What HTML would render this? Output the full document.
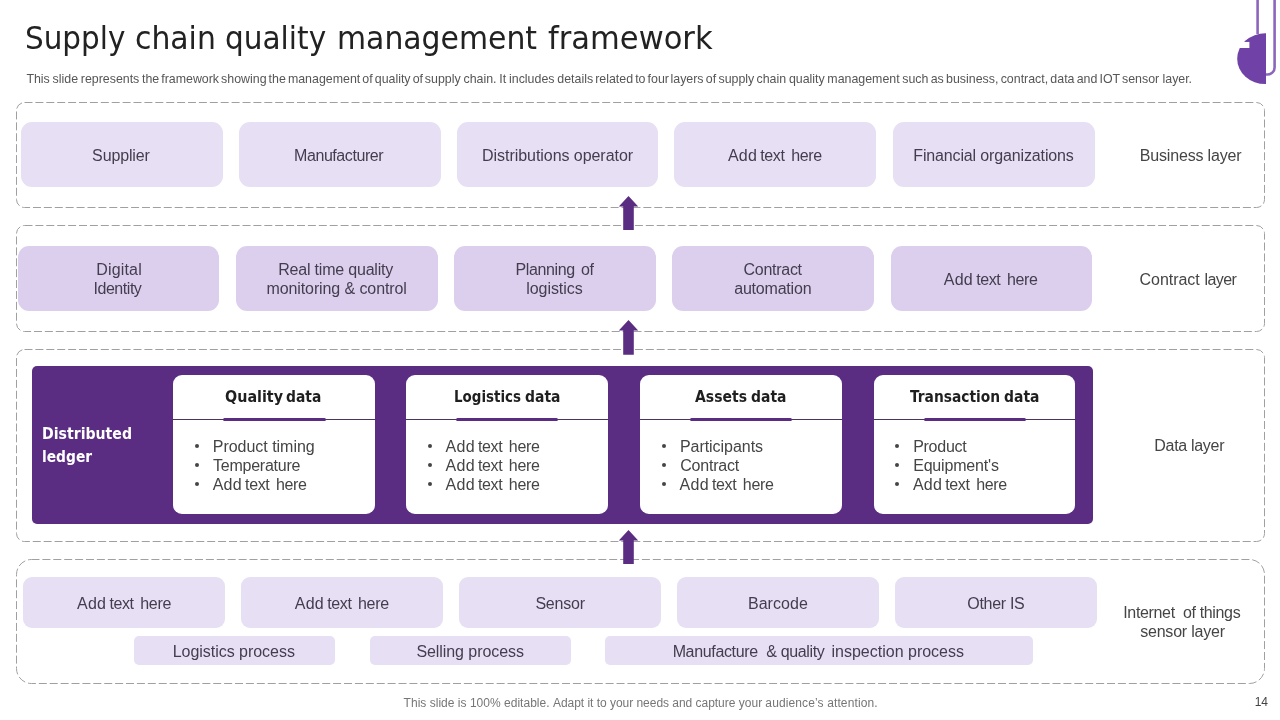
<!DOCTYPE html>
<html lang="en"><head><meta charset="utf-8"><title>Supply chain quality management framework</title>
<style>
html,body{margin:0;padding:0;background:#fff}
body{width:1280px;height:720px;position:relative;overflow:hidden}
#stage{position:absolute;left:0;top:0;width:1280px;height:720px;will-change:transform}
#art{position:absolute;left:0;top:0}
h1,h2,p,ul,li,section,footer{margin:0;padding:0;font-size:inherit;font-weight:inherit;list-style:none}
.bx,li{position:absolute}
.x{position:absolute;white-space:pre;font-kerning:normal;transform-origin:0 0}
.g{display:inline-block;height:1px}
.l1,.l4,.l5{background:#E7DFF3}
.l2{background:#DCCFED}
.l1,.l2{border-radius:11px}
.l4{border-radius:9px}
.l5{border-radius:5px}
.dark{background:#5A2D83;border-radius:5px}
.card{background:#fff;border-radius:9px}
.rule{height:1px;background:#4a3560}
.accent{width:102.2px;height:3px;border-radius:1.5px;background:#5A2D83}
li{width:4px;height:20px}
li::before{content:"";position:absolute;left:0;top:7.4px;width:4px;height:4px;border-radius:50%;background:#454545}
.rl{font-family:"Liberation Sans",sans-serif;font-size:16px;font-weight:400;color:#433d4f;line-height:20px}
.r{font-family:"Liberation Sans",sans-serif;font-size:16px;font-weight:400;color:#454545;line-height:20px}
.b{font-family:"DejaVu Sans Condensed","DejaVu Sans","Liberation Sans",sans-serif;font-stretch:condensed;font-size:15.5px;font-weight:700;color:#1f1f1f;line-height:20px}
.bw{font-family:"DejaVu Sans Condensed","DejaVu Sans","Liberation Sans",sans-serif;font-stretch:condensed;font-size:15px;font-weight:700;color:#ffffff;line-height:20px}
.t{font-family:"DejaVu Sans Condensed","DejaVu Sans","Liberation Sans",sans-serif;font-stretch:condensed;font-size:32px;font-weight:400;color:#222222;line-height:40px}
.s{font-family:"Liberation Sans",sans-serif;font-size:12.4px;font-weight:400;color:#565656;line-height:16px}
.f{font-family:"Liberation Sans",sans-serif;font-size:12px;font-weight:400;color:#767676;line-height:16px}
.p{font-family:"Liberation Sans",sans-serif;font-size:12px;font-weight:400;color:#444444;line-height:16px}
</style></head>
<body>
<div id="stage">
<svg id="art" width="1280" height="720" viewBox="0 0 1280 720">
<g fill="none" stroke="#a0a0a0" stroke-width="1" stroke-dasharray="8 2.9">
<rect x="16.5" y="102.5" width="1248" height="105" rx="8" ry="8"/>
<rect x="16.5" y="225.5" width="1248" height="106" rx="8" ry="8"/>
<rect x="16.5" y="349.5" width="1248" height="192" rx="8" ry="8"/>
<rect x="16.5" y="559.5" width="1248" height="124" rx="15" ry="15"/>
</g>
<polygon fill="#5A2D83" points="628.5,196 638.2,206.6 633.8,206.6 633.8,230 623.2,230 623.2,206.6 618.8,206.6"/>
<polygon fill="#5A2D83" points="628.5,320 638.2,330.6 633.8,330.6 633.8,354.8 623.2,354.8 623.2,330.6 618.8,330.6"/>
<polygon fill="#5A2D83" points="628.5,530 638.2,540.6 633.8,540.6 633.8,564 623.2,564 623.2,540.6 618.8,540.6"/>
<clipPath id="hc"><rect x="1230" y="30" width="35.9" height="60"/></clipPath>
<rect x="1256.3" y="0" width="2.6" height="34" fill="#8C66BC"/>
<path d="M1274.6 0 V67.5 a7 7 0 0 1 -7 7 H1265" fill="none" stroke="#8C66BC" stroke-width="2.6"/>
<ellipse cx="1265.5" cy="58.7" rx="28.3" ry="25.4" fill="#7042A8" clip-path="url(#hc)"/>
<path d="M1236 48 H1249.4 V41.8 H1244.4 L1236 41.8 Z" fill="#fff"/>
<path d="M1249.4 41.8 H1244.2 L1246.5 40 L1249.4 38.5 Z" fill="#7042A8"/>
</svg>
<h1>
<span class="x t" style="left:24.86px;top:18px;transform:scaleX(1.0221)">Supply</span>
<span class="x t" style="left:135.31px;top:18px;transform:scaleX(1.0367)">chain</span>
<span class="x t" style="left:225.34px;top:18px;transform:scaleX(1.0267)">quality</span>
<span class="x t" style="left:336.93px;top:18px;transform:scaleX(1.0373)">management</span>
<span class="x t" style="left:547.94px;top:18px;transform:scaleX(1.0620)">framework</span>
</h1>
<p class="subtitle">
<span class="x s" style="left:26.38px;top:71px;word-spacing:-0.69px">This slide represents </span>
<span class="x s" style="left:141.98px;top:71px;word-spacing:-1.42px">the framework showing </span>
<span class="x s" style="left:268.58px;top:71px;word-spacing:-1.35px">the management of quality of </span>
<span class="x s" style="left:424.86px;top:71px;word-spacing:-0.65px">supply chain. It includes </span>
<span class="x s" style="left:557.31px;top:71px;word-spacing:-1.37px">details related to four </span>
<span class="x s" style="left:670.5px;top:71px;word-spacing:-1.17px">layers of supply chain </span>
<span class="x s" style="left:788.91px;top:71px;word-spacing:-0.82px">quality management </span>
<span class="x s" style="left:902.26px;top:71px;word-spacing:-1.18px">such as business, </span>
<span class="x s" style="left:1000.68px;top:71px;word-spacing:-1.28px">contract, data and IOT </span>
<span class="x s" style="left:1122.06px;top:71px;letter-spacing:-0.02px">sensor layer.</span>
</p>
<section class="layer">
<div class="bx l1" style="left:21px;top:122px;width:201.8px;height:65px">
<span class="x rl" style="left:71.1px;top:24px;letter-spacing:-0.14px">Supplier</span>
</div>
<div class="bx l1" style="left:239px;top:122px;width:201.5px;height:65px">
<span class="x rl" style="left:55.05px;top:24px;letter-spacing:-0.43px">Manufacturer</span>
</div>
<div class="bx l1" style="left:457px;top:122px;width:200.8px;height:65px">
<span class="x rl" style="left:25.05px;top:24px;letter-spacing:-0.05px">Distributions operator</span>
</div>
<div class="bx l1" style="left:674.4px;top:122px;width:201.6px;height:65px">
<span class="x rl" style="left:53.54px;top:24px;letter-spacing:0.24px">Add</span>
<span class="x rl" style="left:85.95px;top:24px;letter-spacing:-0.4px">text</span>
<span class="x rl" style="left:116.77px;top:24px;letter-spacing:-0.33px">here</span>
</div>
<div class="bx l1" style="left:893px;top:122px;width:201.8px;height:65px">
<span class="x rl" style="left:20.25px;top:24px;letter-spacing:-0.14px">Financial organizations</span>
</div>
<div class="lname">
<span class="x r" style="left:1139.85px;top:146px;letter-spacing:-0.18px">Business layer</span>
</div>
</section>
<section class="layer">
<div class="bx l2" style="left:18.2px;top:246px;width:200.6px;height:65px">
<span class="x rl" style="left:78.05px;top:14px;letter-spacing:0.17px">Digital</span>
<span class="x rl" style="left:75.26px;top:33px;letter-spacing:-0.45px">Identity</span>
</div>
<div class="bx l2" style="left:236.2px;top:246px;width:201.6px;height:65px">
<span class="x rl" style="left:42.05px;top:14px;letter-spacing:-0.2px">Real time quality</span>
<span class="x rl" style="left:30.29px;top:33px;letter-spacing:-0.1px">monitoring &amp; control</span>
</div>
<div class="bx l2" style="left:454.2px;top:246px;width:201.6px;height:65px">
<span class="x rl" style="left:61.25px;top:14px;letter-spacing:-0.35px">Planning<i class="g" style="width:2px"></i> of</span>
<span class="x rl" style="left:72.1px;top:33px;letter-spacing:-0.07px">logistics</span>
</div>
<div class="bx l2" style="left:672.2px;top:246px;width:201.6px;height:65px">
<span class="x rl" style="left:71.3px;top:14px;letter-spacing:-0.27px">Contract</span>
<span class="x rl" style="left:62px;top:33px;letter-spacing:-0.2px">automation</span>
</div>
<div class="bx l2" style="left:890.5px;top:246px;width:201.6px;height:65px">
<span class="x rl" style="left:53.24px;top:24px;letter-spacing:0.24px">Add</span>
<span class="x rl" style="left:85.65px;top:24px;letter-spacing:-0.4px">text</span>
<span class="x rl" style="left:116.47px;top:24px;letter-spacing:-0.33px">here</span>
</div>
<div class="lname">
<span class="x r" style="left:1139.5px;top:270px;letter-spacing:-0.03px">Contract</span>
<span class="x r" style="left:1204.4px;top:270px;letter-spacing:-0.54px">layer</span>
</div>
</section>
<section class="layer">
<div class="bx dark" style="left:32.2px;top:365.8px;width:1060.5px;height:158px">
<div class="ledger">
<span class="x bw" style="left:9.98px;top:58.22px;transform:scaleX(1.0450)">Distributed</span>
<span class="x bw" style="left:10.1px;top:81.22px;transform:scaleX(1.0236)">ledger</span>
</div>
<div class="bx card" style="left:140.7px;top:9.1px;width:202.2px;height:139.3px">
<h2>
<span class="x b" style="left:51.87px;top:12.12px;transform:translateY(-0.4px) scaleX(1.0273)">Quality</span>
<span class="x b" style="left:113.08px;top:12.12px;transform:translateY(-0.4px) scaleX(0.9934)">data</span>
</h2>
<div class="bx rule" style="left:0;top:44.1px;width:202.2px"></div>
<div class="bx accent" style="left:50.6px;top:43.1px"></div>
<ul>
<li style="left:21.8px;top:62.1px">
<span class="x r" style="left:18.15px;top:0px;letter-spacing:-0.03px">Product timing</span>
</li>
<li style="left:21.8px;top:81.1px">
<span class="x r" style="left:18.3px;top:0px;letter-spacing:-0.23px">Temperature</span>
</li>
<li style="left:21.8px;top:100.1px">
<span class="x r" style="left:18.04px;top:0px;letter-spacing:0.24px">Add</span>
<span class="x r" style="left:50.45px;top:0px;letter-spacing:-0.4px">text</span>
<span class="x r" style="left:81.27px;top:0px;letter-spacing:-0.33px">here</span>
</li>
</ul>
</div>
<div class="bx card" style="left:373.4px;top:9.1px;width:202.6px;height:139.3px">
<h2>
<span class="x b" style="left:48.92px;top:12.12px;transform:translateY(-0.4px) scaleX(0.9649)">Logistics</span>
<span class="x b" style="left:119.38px;top:12.12px;transform:translateY(-0.4px) scaleX(0.9993)">data</span>
</h2>
<div class="bx rule" style="left:0;top:44.1px;width:202.6px"></div>
<div class="bx accent" style="left:50.6px;top:43.1px"></div>
<ul>
<li style="left:22px;top:62.1px">
<span class="x r" style="left:18.04px;top:0px;letter-spacing:0.24px">Add</span>
<span class="x r" style="left:50.45px;top:0px;letter-spacing:-0.4px">text</span>
<span class="x r" style="left:81.27px;top:0px;letter-spacing:-0.33px">here</span>
</li>
<li style="left:22px;top:81.1px">
<span class="x r" style="left:18.04px;top:0px;letter-spacing:0.24px">Add</span>
<span class="x r" style="left:50.45px;top:0px;letter-spacing:-0.4px">text</span>
<span class="x r" style="left:81.27px;top:0px;letter-spacing:-0.33px">here</span>
</li>
<li style="left:22px;top:100.1px">
<span class="x r" style="left:18.04px;top:0px;letter-spacing:0.24px">Add</span>
<span class="x r" style="left:50.45px;top:0px;letter-spacing:-0.4px">text</span>
<span class="x r" style="left:81.27px;top:0px;letter-spacing:-0.33px">here</span>
</li>
</ul>
</div>
<div class="bx card" style="left:607.4px;top:9.1px;width:202.6px;height:139.3px">
<h2>
<span class="x b" style="left:55.84px;top:12.12px;transform:translateY(-0.4px) scaleX(1.0031)">Assets</span>
<span class="x b" style="left:111.58px;top:12.12px;transform:translateY(-0.4px) scaleX(0.9993)">data</span>
</h2>
<div class="bx rule" style="left:0;top:44.1px;width:202.6px"></div>
<div class="bx accent" style="left:50.6px;top:43.1px"></div>
<ul>
<li style="left:22px;top:62.1px">
<span class="x r" style="left:18.35px;top:0px;letter-spacing:-0.04px">Participants</span>
</li>
<li style="left:22px;top:81.1px">
<span class="x r" style="left:18.6px;top:0px;letter-spacing:-0.2px">Contract</span>
</li>
<li style="left:22px;top:100.1px">
<span class="x r" style="left:18.04px;top:0px;letter-spacing:0.24px">Add</span>
<span class="x r" style="left:50.45px;top:0px;letter-spacing:-0.4px">text</span>
<span class="x r" style="left:81.27px;top:0px;letter-spacing:-0.33px">here</span>
</li>
</ul>
</div>
<div class="bx card" style="left:841.4px;top:9.1px;width:201.5px;height:139.3px">
<h2>
<span class="x b" style="left:36.8px;top:12.12px;transform:translateY(-0.4px) scaleX(0.9909)">Transaction</span>
<span class="x b" style="left:130.48px;top:12.12px;transform:translateY(-0.4px) scaleX(0.9993)">data</span>
</h2>
<div class="bx rule" style="left:0;top:44.1px;width:201.5px"></div>
<div class="bx accent" style="left:50.6px;top:43.1px"></div>
<ul>
<li style="left:21.3px;top:62.1px">
<span class="x r" style="left:18.25px;top:0px;letter-spacing:-0.26px">Product</span>
</li>
<li style="left:21.3px;top:81.1px">
<span class="x r" style="left:18.25px;top:0px;letter-spacing:-0.17px">Equipment's</span>
</li>
<li style="left:21.3px;top:100.1px">
<span class="x r" style="left:18.04px;top:0px;letter-spacing:0.24px">Add</span>
<span class="x r" style="left:50.45px;top:0px;letter-spacing:-0.4px">text</span>
<span class="x r" style="left:81.27px;top:0px;letter-spacing:-0.33px">here</span>
</li>
</ul>
</div>
</div>
<div class="lname">
<span class="x r" style="left:1154.35px;top:436px;letter-spacing:-0.31px">Data layer</span>
</div>
</section>
<section class="layer">
<div class="bx l4" style="left:23.1px;top:577.3px;width:201.8px;height:50.5px">
<span class="x rl" style="left:53.94px;top:16.72px;letter-spacing:0.24px">Add</span>
<span class="x rl" style="left:86.35px;top:16.72px;letter-spacing:-0.4px">text</span>
<span class="x rl" style="left:117.17px;top:16.72px;letter-spacing:-0.33px">here</span>
</div>
<div class="bx l4" style="left:241.2px;top:577.3px;width:201.8px;height:50.5px">
<span class="x rl" style="left:53.64px;top:16.72px;letter-spacing:0.24px">Add</span>
<span class="x rl" style="left:86.05px;top:16.72px;letter-spacing:-0.4px">text</span>
<span class="x rl" style="left:116.87px;top:16.72px;letter-spacing:-0.33px">here</span>
</div>
<div class="bx l4" style="left:459.4px;top:577.3px;width:201.8px;height:50.5px">
<span class="x rl" style="left:76px;top:16.72px;letter-spacing:-0.21px">Sensor</span>
</div>
<div class="bx l4" style="left:677.2px;top:577.3px;width:201.8px;height:50.5px">
<span class="x rl" style="left:70.75px;top:16.72px;letter-spacing:0.05px">Barcode</span>
</div>
<div class="bx l4" style="left:895px;top:577.3px;width:201.8px;height:50.5px">
<span class="x rl" style="left:72.3px;top:16.72px;letter-spacing:-0.31px">Other IS</span>
</div>
<div class="bx l5" style="left:134.1px;top:636.1px;width:201px;height:28.7px">
<span class="x rl" style="left:38.55px;top:5.92px;letter-spacing:-0.03px">Logistics process</span>
</div>
<div class="bx l5" style="left:370px;top:636.1px;width:201px;height:28.7px">
<span class="x rl" style="left:46.4px;top:5.92px;letter-spacing:-0.07px">Selling process</span>
</div>
<div class="bx l5" style="left:604.7px;top:636.1px;width:428.2px;height:28.7px">
<span class="x rl" style="left:67.95px;top:5.92px;letter-spacing:-0.34px">Manufacture</span>
<span class="x rl" style="left:161.57px;top:5.92px;letter-spacing:-0.36px">&amp; quality</span>
<span class="x rl" style="left:226.8px;top:5.92px">inspection process</span>
</div>
<div class="lname">
<span class="x r" style="left:1123.26px;top:603px;letter-spacing:-0.34px">Internet<i class="g" style="width:4px"></i> of things</span>
<span class="x r" style="left:1140.2px;top:622px;letter-spacing:-0.21px">sensor layer</span>
</div>
</section>
<footer>
<p>
<span class="x f" style="left:403.6px;top:695px;letter-spacing:0.02px">This slide is 100% editable. </span>
<span class="x f" style="left:552.95px;top:695px;letter-spacing:-0.03px">Adapt it to your needs and capture </span>
<span class="x f" style="left:738.76px;top:695px;letter-spacing:0.06px">your </span>
<span class="x f" style="left:765.37px;top:695px;letter-spacing:0.12px">audience’s attention.</span>
</p>
<span class="x p" style="left:1254.7px;top:694px;letter-spacing:-0.1px">14</span>
</footer>
</div>
</body></html>
